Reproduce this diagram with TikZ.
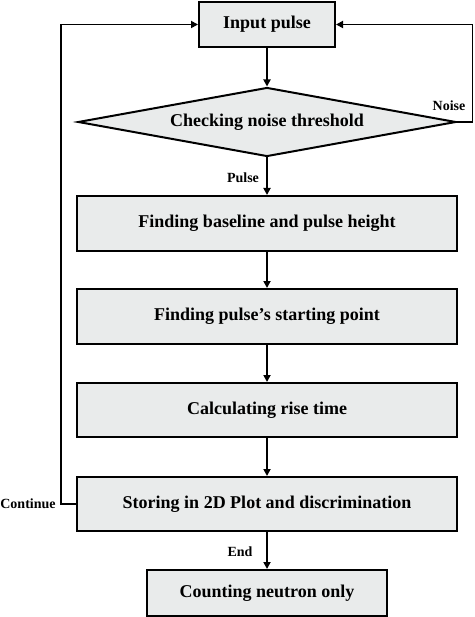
\documentclass[tikz,border=0pt]{standalone}
\usepackage{fontspec}
\setmainfont{Liberation Serif}
\usetikzlibrary{shapes.geometric,arrows.meta}
\definecolor{boxfill}{HTML}{E9EBEB}
\tikzset{
  flowbox/.style={draw=black, line width=2pt, fill=boxfill, rectangle, inner sep=0pt,
    font=\fontsize{18}{20}\selectfont\bfseries},
  decide/.style={draw=black, line width=2pt, fill=boxfill, diamond, shape aspect=5.48,
    inner sep=0pt, minimum width=378pt, minimum height=69pt,
    font=\fontsize{18}{20}\selectfont\bfseries},
  conn/.style={line width=1.8pt, -{Triangle[length=7pt,width=7pt]}},
  lbl/.style={font=\fontsize{14}{16}\selectfont\bfseries, inner sep=0pt}
}
\begin{document}
\begin{tikzpicture}[x=1pt,y=-1pt]
\useasboundingbox (0,0) rectangle (474,617);
\node[flowbox, minimum width=136pt, minimum height=45pt] (inp) at (267,24.5) {Input pulse};
\node[decide] (dia) at (267,122) {Checking noise threshold};
\node[flowbox, minimum width=380pt, minimum height=55pt] (b1) at (267,223.5) {Finding baseline and pulse height};
\node[flowbox, minimum width=380pt, minimum height=55pt] (b2) at (267,316.5) {Finding pulse’s starting point};
\node[flowbox, minimum width=380pt, minimum height=54pt] (b3) at (267,410) {Calculating rise time};
\node[flowbox, minimum width=380pt, minimum height=54pt] (b4) at (267,504) {Storing in 2D Plot and discrimination};
\node[flowbox, minimum width=240pt, minimum height=46pt] (b5) at (267,593) {Counting neutron only};

\coordinate (nr) at (472.5,122);
\coordinate (cl) at (61,504);

\draw[conn] (inp) -- (dia);
\draw[conn] (dia) -- (b1);
\draw[conn] (b1) -- (b2);
\draw[conn] (b2) -- (b3);
\draw[conn] (b3) -- (b4);
\draw[conn] (b4) -- (b5);
\draw[conn] (dia.east) -- (nr) |- (inp.east);
\draw[conn] (b4.west) -- (cl) |- (inp.west);

\node[lbl] (lnoise) at (449,106) {Noise};
\node[lbl] (lpulse) at (243,178) {Pulse};
\node[lbl] (lend) at (240,552) {End};
\node[lbl] (lcont) at (28,504) {Continue};
\end{tikzpicture}
\end{document}
